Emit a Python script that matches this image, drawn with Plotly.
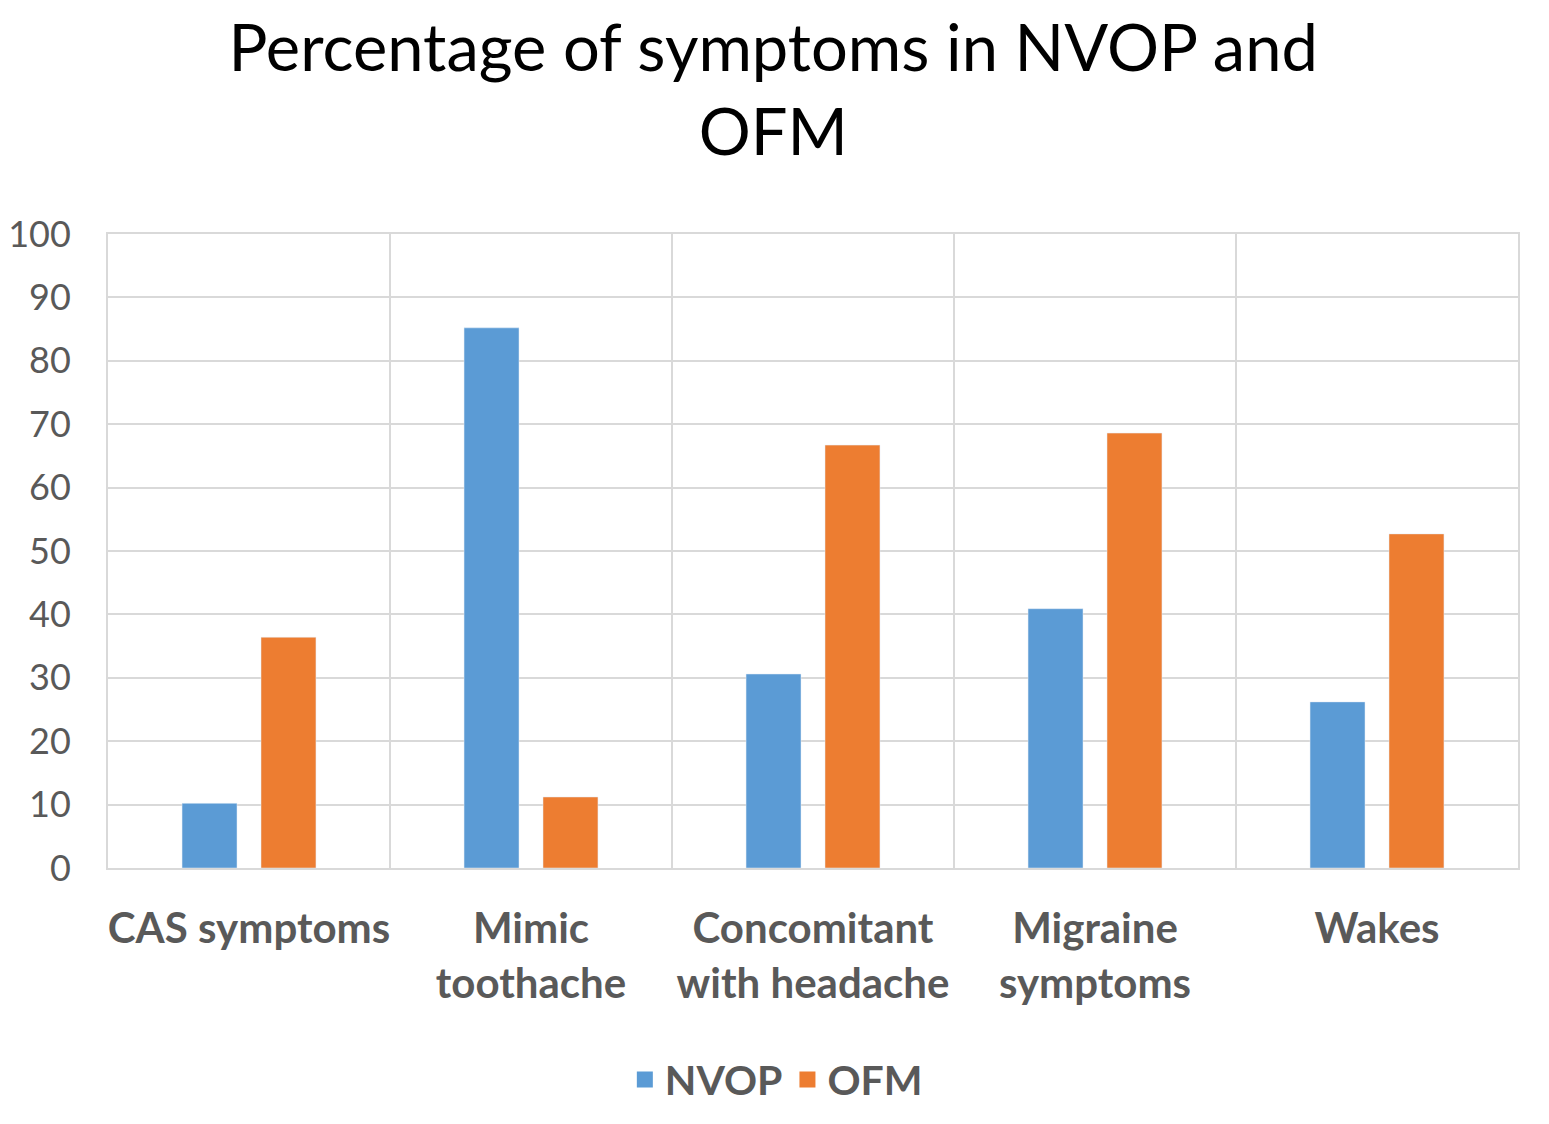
"""Percentage of symptoms in NVOP and OFM - grouped bars."""

import plotly.graph_objects as go

categories = [
    'CAS symptoms',
    'Mimic<br>toothache',
    'Concomitant<br>with headache',
    'Migraine<br>symptoms',
    'Wakes',
]
nvop = [10.2, 85.2, 30.6, 40.9, 26.2]
ofm = [36.4, 11.2, 66.7, 68.6, 52.7]
y_ticks = list(range(0, 101, 10))

font_family = 'Lato, "Noto Sans", sans-serif'
grey = '#595959'
grid = '#d9d9d9'
blue = '#5B9BD5'
orange = '#ED7D31'

fig = go.Figure()
fig.add_trace(go.Bar(x=categories, y=nvop, name='NVOP', marker_color=blue, showlegend=False))
fig.add_trace(go.Bar(x=categories, y=ofm, name='OFM', marker_color=orange, showlegend=False))
# legend entries with bigger square swatches
for name, colour in [('NVOP', blue), ('OFM', orange)]:
    fig.add_trace(go.Scatter(
        x=[None], y=[None], mode='markers', name=name,
        marker=dict(symbol='square', size=16, color=colour),
    ))

fig.update_layout(
    title={
        'text': 'Percentage of symptoms in NVOP and<br>OFM',
        'x': 0.494,
        'xanchor': 'center',
        'y': 0.944,
        'yanchor': 'middle',
        'font': {'family': font_family, 'size': 65, 'color': '#000000'},
    },
    barmode='group',
    bargap=0.44,
    bargroupgap=0.304,
    width=1549,
    height=1124,
    margin=dict(l=100, r=39, t=226, b=264),
    paper_bgcolor='white',
    plot_bgcolor='white',
    showlegend=True,
    legend=dict(
        orientation='h',
        x=0.474,
        xanchor='center',
        y=-0.334,
        yanchor='middle',
        font=dict(family=font_family, size=41, color=grey, weight='bold'),
        itemsizing='trace',
    ),
    xaxis=dict(
        type='category',
        tickson='boundaries',
        showgrid=True,
        gridcolor=grid,
        gridwidth=2,
        showline=True,
        linecolor=grid,
        linewidth=2,
        mirror=True,
        ticks='',
        tickangle=0,
        ticklabelstandoff=23,
        tickfont=dict(family=font_family, size=42, color=grey, weight='bold'),
        automargin=False,
    ),
    yaxis=dict(
        range=[0, 100],
        tickvals=y_ticks,
        showgrid=True,
        gridcolor=grid,
        gridwidth=2,
        showline=True,
        linecolor=grid,
        linewidth=2,
        mirror=True,
        zeroline=False,
        ticks='',
        ticklabelstandoff=28,
        tickfont=dict(family=font_family, size=36, color=grey),
        automargin=False,
    ),
)

fig.write_html('out.html')
